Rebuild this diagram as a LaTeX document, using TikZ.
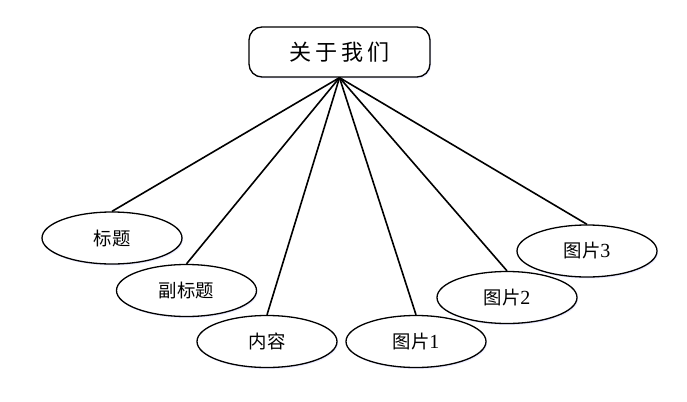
\documentclass[tikz,border=0pt]{standalone}
\usepackage{fontspec}
\setmainfont{Liberation Serif}
\newfontfamily\cjk{Noto Sans CJK SC}[Scale=0.92]
\usetikzlibrary{shapes.geometric,shadows}
\begin{document}
\begin{tikzpicture}[x=1pt,y=-1pt,
  glow/.style={drop shadow={fill=blue!25,opacity=0.35,shadow xshift=1pt,shadow yshift=-1.5pt}},
  rootbox/.style={draw=black,line width=1.3pt,rounded corners=13pt,fill=white,
    minimum width=181pt,minimum height=50pt,inner sep=0pt,font=\fontsize{24}{28}\selectfont,glow},
  leaf/.style={draw=black,ellipse,line width=1.3pt,fill=white,
    minimum width=140pt,minimum height=52pt,inner sep=0pt,font=\fontsize{20}{24}\selectfont,glow},
  link/.style={line width=1.6pt,draw=black}]
\useasboundingbox (0,0) rectangle (687,401);
\node[rootbox] (root) at (339.5,52) {\cjk 关\,于\,我\,们};
\node[leaf] (a) at (112,238) {\cjk 标题};
\node[leaf] (b) at (186.5,290.5) {\cjk 副标题};
\node[leaf] (c) at (267,341.5) {\cjk 内容};
\node[leaf] (d) at (416,341.5) {{\cjk 图片}1};
\node[leaf] (e) at (507,297.5) {{\cjk 图片}2};
\node[leaf] (f) at (587,251) {{\cjk 图片}3};
\foreach \n in {a,b,c,d,e,f}
  \draw[link] (root.south) -- (\n.north);
\end{tikzpicture}
\end{document}
